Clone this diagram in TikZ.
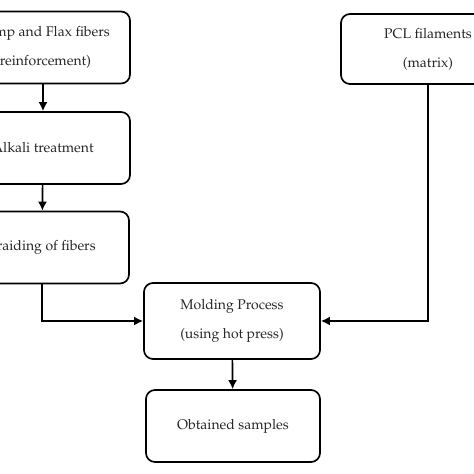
\documentclass[tikz,border=0pt]{standalone}
\usepackage[T1]{fontenc}
\usepackage{mathpazo}
\usepackage{tikz}
\usetikzlibrary{arrows.meta,scopes}

\begin{document}
\begin{tikzpicture}[x=1pt,y=-1pt]
    \useasboundingbox (0,0) rectangle (474,474);
    \clip (0,0) rectangle (474,474);
    {[every node/.style={draw, line width=1.7pt, rounded corners=9pt, align=center, text=black!85, font=\fontsize{14}{29}\selectfont, minimum width=174pt, minimum height=72pt}]
    \node (hemp) at (43,47.5) {Hemp and Flax fibers\\(reinforcement)};
    \node (alkali) at (43,148) {Alkali treatment};
    \node (braid) at (42,247.5) {Braiding of fibers};
    \node[minimum width=176pt, minimum height=76pt] (molding) at (232,321) {Molding Process\\(using hot press)};
    \node (obtained) at (233,426) {Obtained samples};
    \node[minimum height=70pt] (pcl) at (428,49) {PCL filaments\\(matrix)};
    }
    {[line width=1.7pt, -{Latex[length=9pt,width=9pt]}]
      \draw (hemp) -- (alkali);
      \draw (alkali) -- (braid);
      \draw (braid.south) |- (molding.west);
      \draw (pcl.south) |- (molding.east);
      \draw (molding) -- (obtained);
    }
\end{tikzpicture}
\end{document}
